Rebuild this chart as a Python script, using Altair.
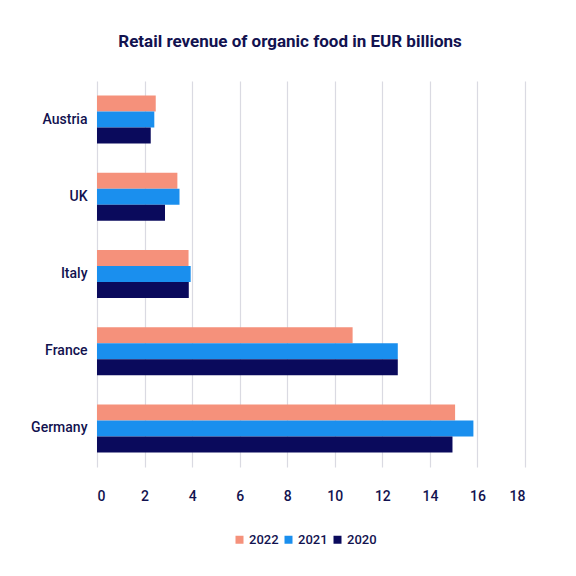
import altair as alt
import pandas as pd

countries = ["Austria", "UK", "Italy", "France", "Germany"]
years = ["2022", "2021", "2020"]
v2022 = [2.47, 3.38, 3.85, 10.75, 15.06]
v2021 = [2.41, 3.47, 3.94, 12.65, 15.83]
v2020 = [2.26, 2.86, 3.86, 12.65, 14.95]
colors = ["#F5917B", "#1A8FEE", "#0A0A5C"]

rows = []
for i, c in enumerate(countries):
    for y, vals in zip(years, [v2022, v2021, v2020]):
        rows.append({"country": c, "year": y, "value": vals[i]})
df = pd.DataFrame(rows)

NAVY = "#12124f"
FONT = "Roboto"

chart = alt.Chart(df).mark_bar().encode(
    y=alt.Y("country:N", sort=countries, title=None,
            scale=alt.Scale(paddingInner=0.378, paddingOuter=0.189),
            axis=alt.Axis(domain=False, ticks=False, labelPadding=10,
                          labelFontSize=14, labelColor=NAVY, labelFont=FONT,
                          labelFontWeight=500)),
    x=alt.X("value:Q", title=None,
            scale=alt.Scale(domain=[0, 18], nice=False),
            axis=alt.Axis(values=list(range(0, 19, 2)), domain=False, ticks=False,
                          grid=True, gridColor="#dadae2", gridWidth=1.2,
                          labelPadding=22, labelFontSize=14, labelColor=NAVY,
                          labelFont=FONT, labelFontWeight=500)),
    yOffset=alt.YOffset("year:N", sort=years, scale=alt.Scale(paddingInner=0, paddingOuter=0)),
    color=alt.Color("year:N", sort=years,
                    scale=alt.Scale(domain=years, range=colors),
                    legend=alt.Legend(title=None, orient="none", direction="horizontal",
                                      legendX=136, legendY=452, symbolType="square",
                                      symbolSize=64, symbolStrokeWidth=0,
                                      labelFontSize=13, labelColor=NAVY, labelFont=FONT,
                                      labelFontWeight=500, columnPadding=3,
                                      labelOffset=3)),
).properties(
    width=428, height=386,
    title=alt.Title("Retail revenue of organic food in EUR billions",
                    fontSize=17, font=FONT, fontWeight="bold", color=NAVY,
                    dx=-21, offset=30, anchor="middle"),
    autosize=alt.AutoSizeParams(type="none"),
    padding={"left": 89, "top": 73, "right": 40, "bottom": 100},
).configure_view(stroke=None)

chart.save("out.html", embed_options={"renderer": "svg", "actions": False})
